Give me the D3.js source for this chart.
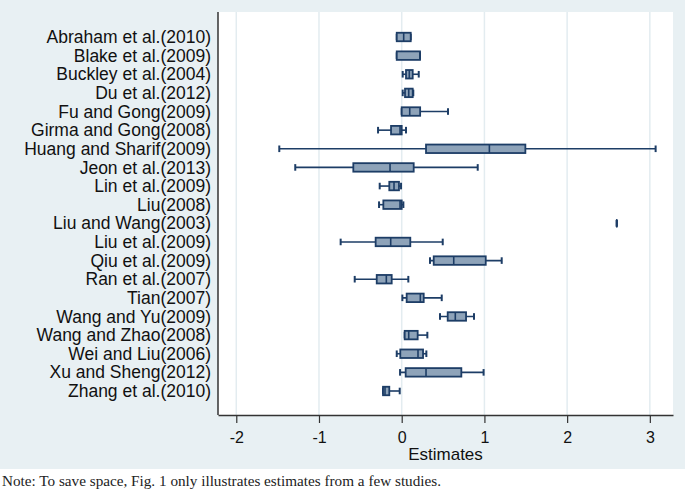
<!DOCTYPE html>
<html>
<head>
<meta charset="utf-8">
<script src="https://cdn.jsdelivr.net/npm/d3@7"></script>
<style>
  body { margin: 0; background: #fff; }
  svg { display: block; }
</style>
</head>
<body>
<div class="chart"></div>
<script>
// studies, top to bottom
const studies = [
    "Abraham et al.(2010)", "Blake et al.(2009)", "Buckley et al.(2004)", "Du et al.(2012)",
    "Fu and Gong(2009)", "Girma and Gong(2008)", "Huang and Sharif(2009)", "Jeon et al.(2013)",
    "Lin et al.(2009)", "Liu(2008)", "Liu and Wang(2003)", "Liu et al.(2009)",
    "Qiu et al.(2009)", "Ran et al.(2007)", "Tian(2007)", "Wang and Yu(2009)",
    "Wang and Zhao(2008)", "Wei and Liu(2006)", "Xu and Sheng(2012)", "Zhang et al.(2010)"
];
// box plot stats
const lowWhisker = [-0.06, -0.06, 0.012, 0.012, 0.0, -0.286, -1.48, -1.287, -0.266, -0.274,
    2.6, -0.738, 0.342, -0.568, 0.008, 0.463, 0.036, -0.06, -0.02, -0.226];
const q1 = [-0.06, -0.06, 0.052, 0.04, 0.0, -0.129, 0.294, -0.585, -0.15, -0.222,
    2.6, -0.315, 0.387, -0.302, 0.06, 0.556, 0.036, -0.017, 0.048, -0.226];
const median = [0.024, 0.221, 0.092, 0.085, 0.097, -0.02, 1.06, -0.141, -0.093, -0.02,
    2.6, -0.133, 0.629, -0.186, 0.225, 0.648, 0.085, 0.197, 0.294, -0.202];
const q3 = [0.109, 0.221, 0.133, 0.133, 0.223, 0.0, 1.495, 0.145, -0.033, 0.0,
    2.6, 0.104, 1.016, -0.121, 0.266, 0.778, 0.193, 0.258, 0.721, -0.15];
const highWhisker = [0.109, 0.221, 0.206, 0.14, 0.56, 0.052, 3.07, 0.919, -0.008, 0.02,
    2.6, 0.496, 1.209, 0.08, 0.484, 0.874, 0.31, 0.298, 0.99, -0.024];
const xTicks = [-2, -1, 0, 1, 2, 3];

const rows = studies.map((s, i) => ({
    name: s, lo: lowWhisker[i], q1: q1[i], med: median[i], q3: q3[i], hi: highWhisker[i]
}));

const width = 685, height = 498;
const plot = {left: 218, right: 673, top: 12, bottom: 415};
const boxH = 8.5;
const stroke = "#1d3d66", fill = "#8ea3b9";
const sans = "'Liberation Sans', Arial, sans-serif";

const svg = d3.select(".chart").append("svg")
    .attr("width", width).attr("height", height);

// figure background
svg.append("rect").attr("x", 0).attr("y", 0).attr("width", width).attr("height", 469)
    .attr("fill", "#e8f0f3");
svg.append("rect")
    .attr("x", plot.left).attr("y", plot.top)
    .attr("width", plot.right - plot.left).attr("height", plot.bottom - plot.top)
    .attr("fill", "#fff");

const x = d3.scaleLinear().domain([-2.221, 3.28]).range([plot.left, plot.right]);
const y = d3.scalePoint().domain(studies).range([37, 391]);

// grid
svg.append("g").selectAll("line").data(xTicks).join("line")
    .attr("x1", d => x(d)).attr("x2", d => x(d))
    .attr("y1", plot.top).attr("y2", plot.bottom)
    .attr("stroke", "#e3ecf0").attr("stroke-width", 1.5);

// x axis
const xAxis = svg.append("g")
    .attr("transform", `translate(0,${plot.bottom})`)
    .call(d3.axisBottom(x).tickValues(xTicks).tickFormat(d => String(d))
        .tickSize(8).tickSizeOuter(0).tickPadding(9));
xAxis.select(".domain").attr("stroke", "#333").attr("stroke-width", 1.5);
xAxis.selectAll(".tick line").attr("stroke", "#333").attr("stroke-width", 1.2);
xAxis.selectAll(".tick text")
    .attr("font-family", sans)
    .attr("font-size", 16).attr("fill", "#111");

// y axis
const yAxis = svg.append("g")
    .attr("transform", `translate(${plot.left},0)`)
    .call(d3.axisLeft(y).tickSize(0).tickPadding(7));
yAxis.select(".domain").attr("d", `M0,${plot.top}V${plot.bottom}`)
    .attr("stroke", "#333").attr("stroke-width", 1.5);
yAxis.selectAll(".tick text")
    .attr("font-family", sans)
    .attr("font-size", 17.5).attr("fill", "#111");

svg.append("text")
    .attr("x", (plot.left + plot.right) / 2).attr("y", 460)
    .attr("text-anchor", "middle")
    .attr("font-family", sans)
    .attr("font-size", 17).attr("fill", "#111")
    .text("Estimates");

// boxes
const g = svg.append("g").selectAll("g").data(rows).join("g")
    .attr("transform", d => `translate(0,${y(d.name)})`);

g.append("line")
    .attr("x1", d => x(d.lo)).attr("x2", d => x(d.hi))
    .attr("stroke", stroke).attr("stroke-width", 1.6);
g.selectAll("line.cap").data(d => [d.lo, d.hi]).join("line")
    .attr("class", "cap")
    .attr("x1", v => x(v)).attr("x2", v => x(v))
    .attr("y1", -3.3).attr("y2", 3.3)
    .attr("stroke", stroke).attr("stroke-width", 2);
g.append("rect")
    .attr("x", d => x(d.q1)).attr("y", -boxH / 2)
    .attr("width", d => x(d.q3) - x(d.q1)).attr("height", boxH)
    .attr("fill", fill).attr("stroke", stroke).attr("stroke-width", 1.8);
g.append("line")
    .attr("x1", d => x(d.med)).attr("x2", d => x(d.med))
    .attr("y1", -boxH / 2).attr("y2", boxH / 2)
    .attr("stroke", stroke).attr("stroke-width", 1.6);

// note
svg.append("text")
    .attr("x", 2).attr("y", 486)
    .attr("font-family", "'Liberation Serif', 'Times New Roman', serif")
    .attr("font-size", 14).attr("fill", "#222")
    .attr("textLength", 439).attr("lengthAdjust", "spacingAndGlyphs")
    .text("Note: To save space, Fig. 1 only illustrates estimates from a few studies.");
</script>
</body>
</html>
